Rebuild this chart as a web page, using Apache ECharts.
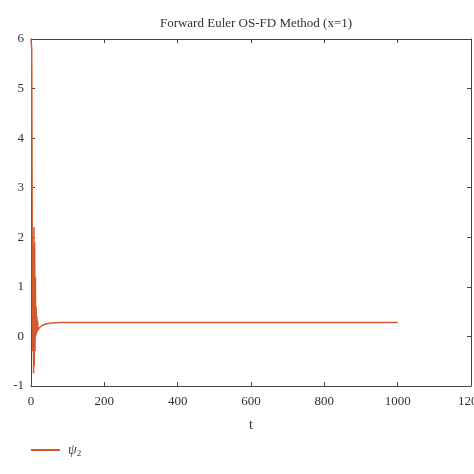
<!DOCTYPE html>
<html><head><meta charset="utf-8">
<script src="https://cdn.jsdelivr.net/npm/echarts@6/dist/echarts.min.js"></script>
<style>html,body{margin:0;padding:0;background:#fff}#c{width:474px;height:474px}</style>
</head><body><div id="c"></div>
<script>
const titleText = 'Forward Euler OS-FD Method (x=1)';
const xTicks = [0, 200, 400, 600, 800, 1000, 1200];
const yTicks = [-1, 0, 1, 2, 3, 4, 5, 6];
const tValues = [0, 2, 3, 4, 4.5, 5, 6, 7, 8, 9, 10, 11, 12, 13, 14, 15, 16, 17, 18, 19, 20, 22, 25, 30, 35, 40, 50, 60, 70, 80, 100, 150, 200, 400, 600, 800, 1000];
const psi2 = [6.0, 5.8, 3.0, -0.3, 1.5, -0.2, 1.8, -0.75, 2.2, -0.6, 1.9, -0.3, 1.2, 0.0, 0.6, 0.05, 0.4, 0.1, 0.32, 0.12, 0.15, 0.17, 0.2, 0.22, 0.24, 0.25, 0.265, 0.272, 0.277, 0.28, 0.28, 0.28, 0.28, 0.28, 0.28, 0.28, 0.28];
const seriesName = 'ψ2';

const data = tValues.map((t, i) => [t, psi2[i]]);
const font = 'Liberation Serif';
const axisCommon = {
  axisLine: {show: true, onZero: false, lineStyle: {color: '#444', width: 1}},
  axisTick: {show: true, inside: true, length: 4, lineStyle: {color: '#444'}},
  splitLine: {show: false}
};
const chart = echarts.init(document.getElementById('c'));
chart.setOption({
  animation: false,
  backgroundColor: '#fff',
  title: {text: titleText, left: 251, top: 12, textAlign: 'center',
    textStyle: {fontFamily: font, fontSize: 13, fontWeight: 'normal', color: '#333'}},
  grid: {left: 31, right: 3, top: 39, bottom: 88, containLabel: false, outerBoundsMode: 'none'},
  legend: {left: 31, top: 443, padding: 0, itemWidth: 29, itemHeight: 2, itemGap: 7,
    icon: 'rect',
    data: [{name: seriesName}],
    formatter: () => '{a|ψ}{b|2}',
    textStyle: {fontFamily: font, color: '#444', rich: {
      a: {fontFamily: font, fontSize: 14, fontStyle: 'italic', color: '#444', padding: [0, 0, 0, 3]},
      b: {fontFamily: font, fontSize: 9, color: '#444', verticalAlign: 'bottom', padding: [7, 0, 0, 0]}}}},
  xAxis: [
    Object.assign({type: 'value', min: xTicks[0], max: xTicks[xTicks.length - 1], interval: 200, position: 'bottom',
      name: 't', nameLocation: 'middle', nameGap: 32,
      nameTextStyle: {fontFamily: font, fontSize: 14, color: '#333'},
      axisLabel: {fontFamily: font, fontSize: 13, color: '#333', margin: 9, formatter: v => String(v)}}, axisCommon),
    Object.assign({type: 'value', min: 0, max: 1200, interval: 200, position: 'top',
      axisLabel: {show: false}}, axisCommon)
  ],
  yAxis: [
    Object.assign({type: 'value', min: yTicks[0], max: yTicks[yTicks.length - 1], interval: 1, position: 'left',
      axisLabel: {fontFamily: font, fontSize: 13, color: '#333', margin: 7, formatter: v => String(v)}}, axisCommon),
    Object.assign({type: 'value', min: -1, max: 6, interval: 1, position: 'right',
      axisLabel: {show: false}}, axisCommon)
  ],
  series: [{
    name: seriesName, type: 'line', data: data, showSymbol: false, symbol: 'none',
    xAxisIndex: 0, yAxisIndex: 0,
    lineStyle: {color: '#d35a2a', width: 1.5}, itemStyle: {color: '#d35a2a'}
  }]
});
</script></body></html>
